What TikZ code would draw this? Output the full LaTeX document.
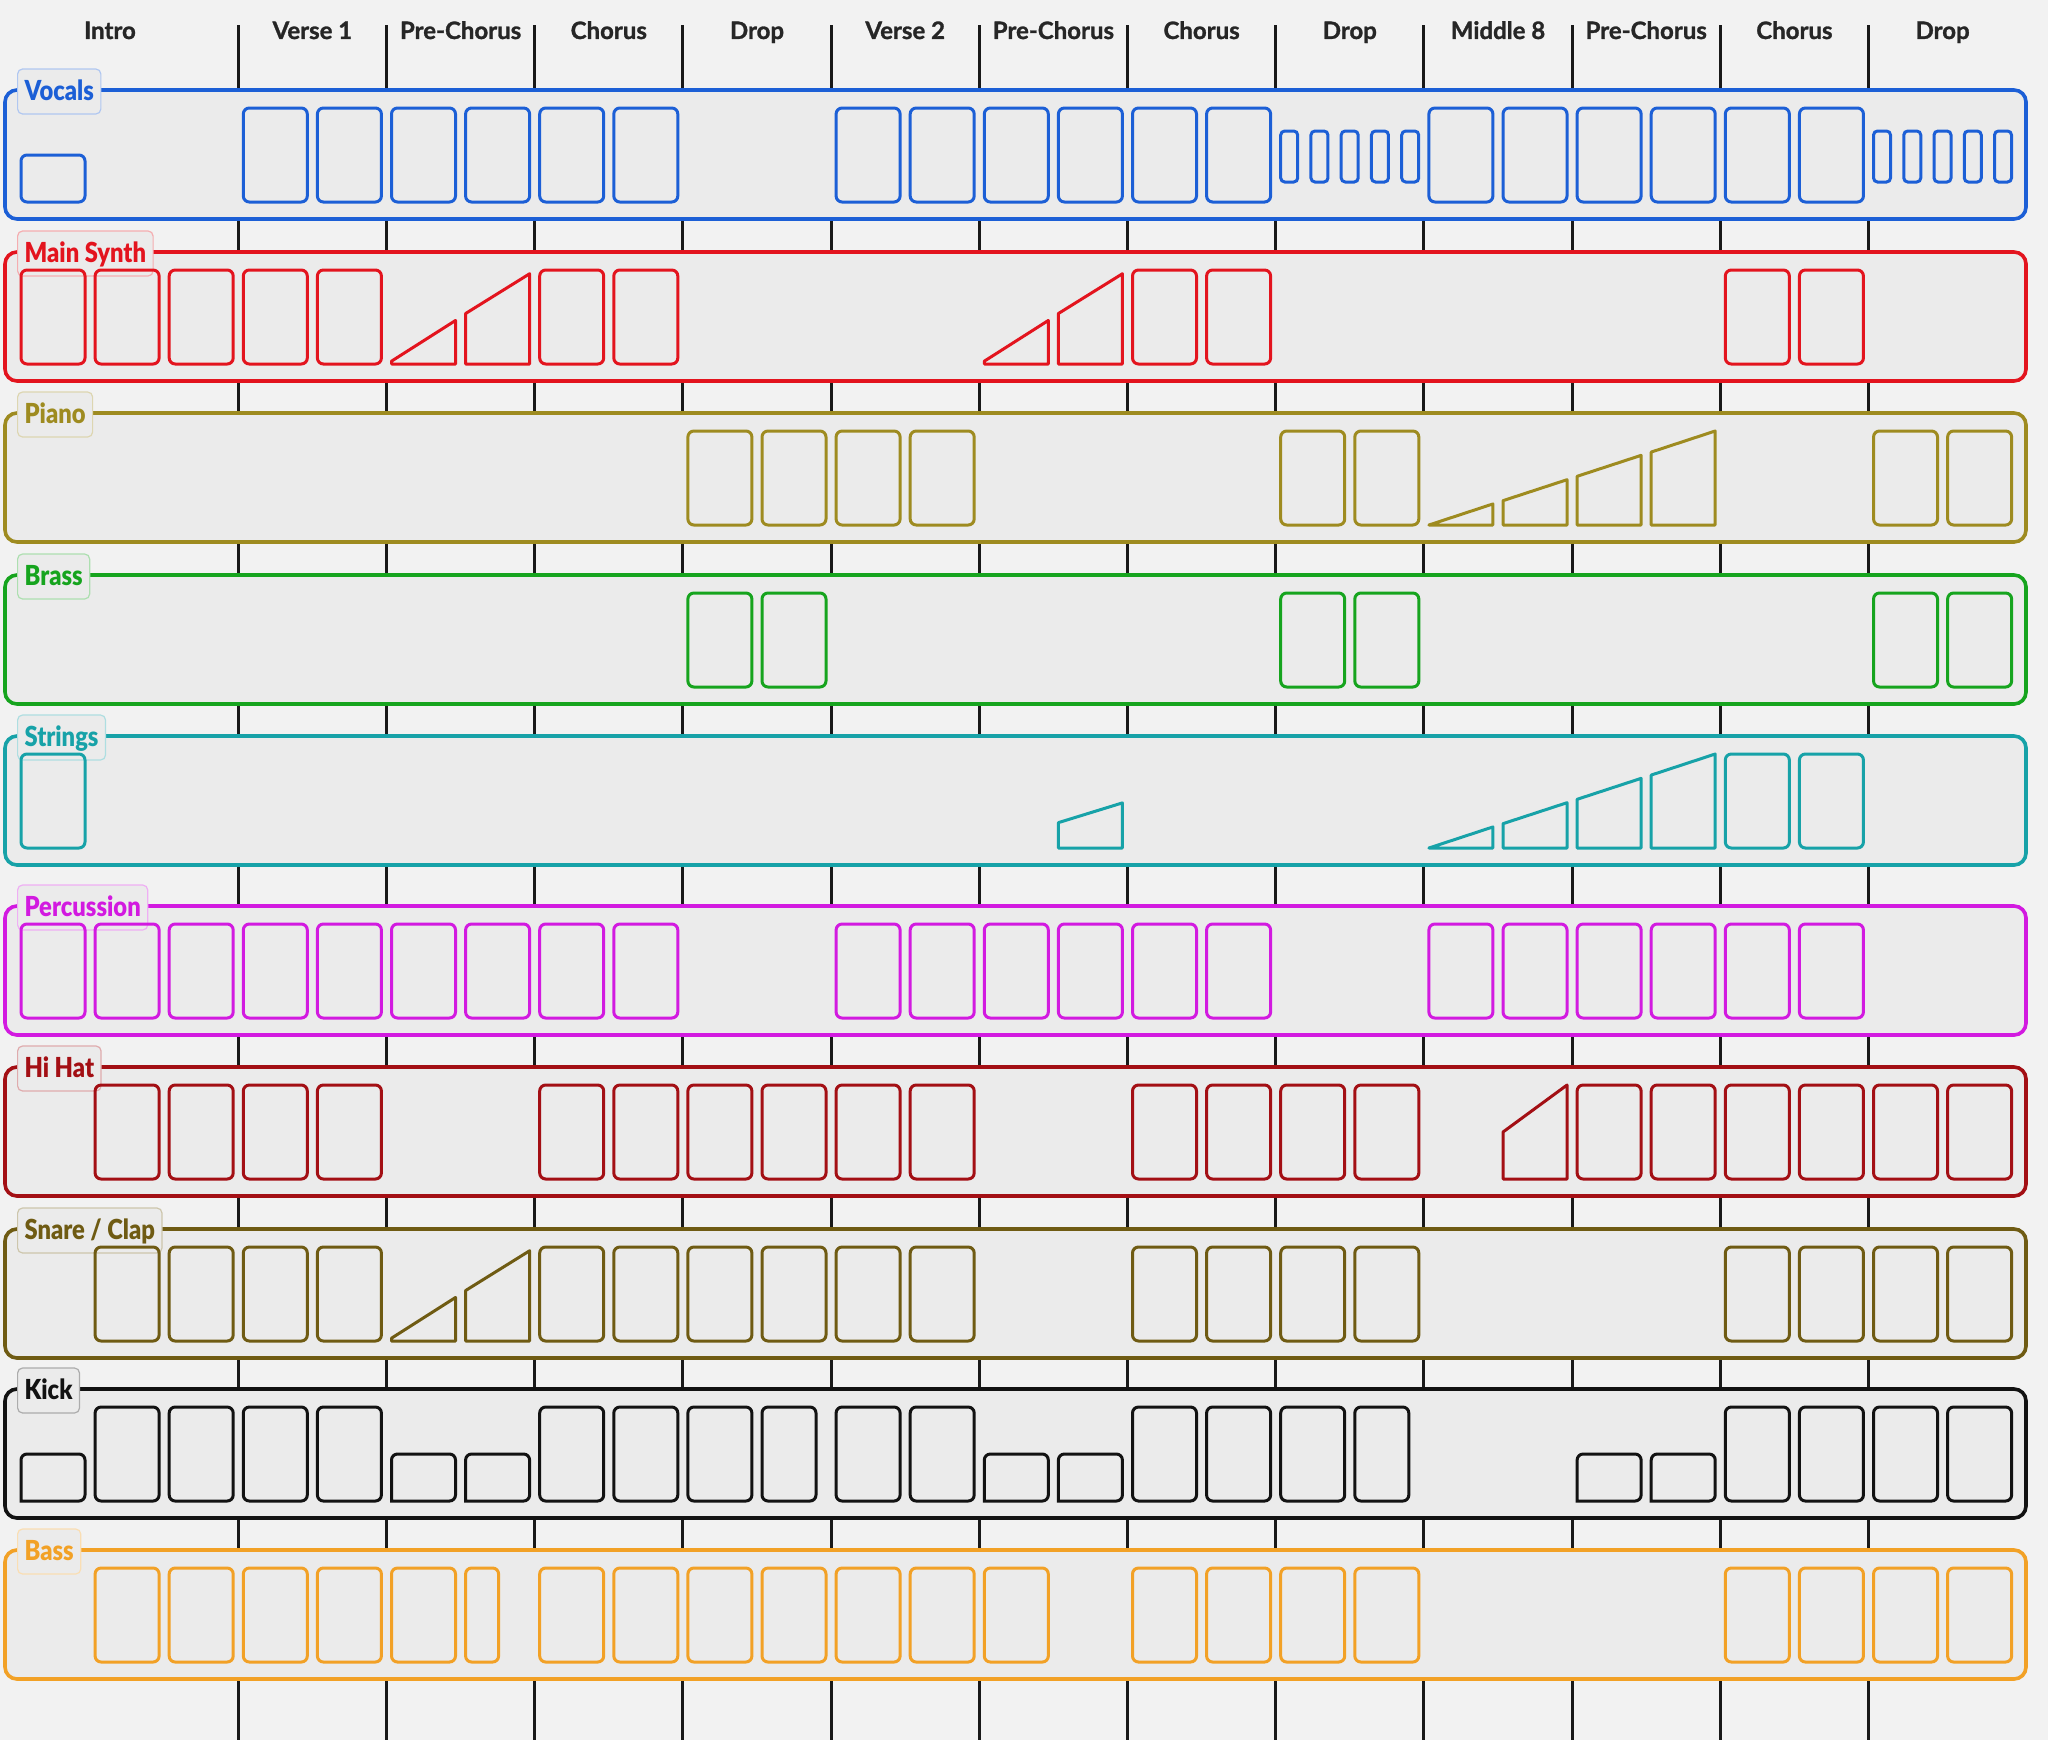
\documentclass[tikz,border=0pt]{standalone}
\usepackage{fontspec}
\setmainfont{Lato}
\IfFontExistsTF{Lato Black}
  {\newfontfamily\trackfont[FakeStretch=0.86]{Lato Black}}
  {\IfFontExistsTF{Lato Bold}
    {\newfontfamily\trackfont[FakeStretch=0.88,FakeBold=1.5]{Lato Bold}}
    {\newfontfamily\trackfont[FakeStretch=0.88,FakeBold=3]{Lato}}}
\IfFontExistsTF{Lato Bold}
  {\newfontfamily\secfont[FakeBold=1.2]{Lato Bold}}
  {\newfontfamily\secfont[FakeBold=2.5]{Lato}}
\usepackage{tikz}

\definecolor{bgcol}{HTML}{F2F2F2}
\definecolor{lanefill}{HTML}{EBEBEB}
\definecolor{vocalcol}{HTML}{1C5FD6}
\definecolor{synthcol}{HTML}{E3141E}
\definecolor{pianocol}{HTML}{9E8B20}
\definecolor{brasscol}{HTML}{16A41E}
\definecolor{stringcol}{HTML}{17A2A8}
\definecolor{perccol}{HTML}{D21AE0}
\definecolor{hihatcol}{HTML}{A30F14}
\definecolor{snarecol}{HTML}{6F5B13}
\definecolor{kickcol}{HTML}{121212}
\definecolor{basscol}{HTML}{F2A126}

% one bar = 64 wide, 74.1 apart, first bar at x=21
\newcommand{\fullblocks}[3]{\foreach \c in {#1} {\draw[blk, #3] ({21+74.1*\c},#2+18) rectangle ++(64,94);}}
\newcommand{\rampcol}[5]{\draw[rampline, #5] ({21+74.1*(#1)},#2+112) -- ({21+74.1*(#1)},{#2+112-94*#3}) -- ({85+74.1*(#1)},{#2+112-94*#4}) -- ({85+74.1*(#1)},#2+112) -- cycle;}
\newcommand{\halfblk}[3]{\draw[blk, #3, sharp corners] ({21+74.1*(#1)},#2+112) [rounded corners=3pt] -- ({21+74.1*(#1)},#2+65) -- ({85+74.1*(#1)},#2+65) -- ({85+74.1*(#1)},#2+112) [sharp corners] -- cycle;}

\begin{document}
\begin{tikzpicture}[x=0.5pt, y=-0.5pt,
  lane/.style={line width=1.8pt, rounded corners=6pt, fill=lanefill},
  blk/.style={line width=1.5pt, rounded corners=3pt},
  rampline/.style={line width=1.5pt, line join=round},
  lanetag/.style={anchor=west, rounded corners=2.5pt, fill=lanefill, line width=0.6pt,
    font=\trackfont\fontsize{13.8}{16}\selectfont, text height=11pt, text depth=2pt,
    inner xsep=3.5pt, inner ysep=0pt, minimum height=22.5pt},
  seclabel/.style={anchor=base, font=\secfont\fontsize{12}{14}\selectfont, text=black!85},
  divider/.style={line width=1.5pt, black!90}]

\useasboundingbox (0,0) rectangle (2048,1740);
\fill[bgcol] (0,0) rectangle (2048,1740);

% section lines and names
\foreach \k in {0,...,11}
  \draw[divider] ({238.3+148.2*\k},25) -- ({238.3+148.2*\k},1740);
\node[seclabel] (sec0) at (110,39) {Intro};
\foreach \k/\name in {1/Verse 1, 2/Pre-Chorus, 3/Chorus, 4/Drop, 5/Verse 2, 6/Pre-Chorus,
    7/Chorus, 8/Drop, 9/Middle 8, 10/Pre-Chorus, 11/Chorus, 12/Drop}
  \node[seclabel] (sec\k) at ({238.3+148.2*(\k-0.5)},39) {\name};

% Vocals
\draw[lane, draw=vocalcol] (5,90) rectangle (2026,219);
\node[lanetag, draw=vocalcol!35!white, text=vocalcol] (vocalsTag) at (17,91.5) {Vocals};
\draw[blk, vocalcol] (21,155) rectangle ++(64,47);
\fullblocks{3,4,5,6,7,8,11,12,13,14,15,16,19,20,21,22,23,24}{90}{vocalcol}
\foreach \c in {17,25} \foreach \j in {0,...,4}
  \draw[blk, vocalcol, rounded corners=2pt] ({21+74.1*\c+30.25*\j},131) rectangle ++(17,51);

% Main Synth
\draw[lane, draw=synthcol] (5,252) rectangle (2026,381);
\node[lanetag, draw=synthcol!35!white, text=synthcol] (synthTag) at (17,253.5) {Main Synth};
\fullblocks{0,1,2,3,4,7,8,15,16,23,24}{252}{synthcol}
\foreach \c in {5,13} {
  \rampcol{\c}{252}{0.03}{0.463}{synthcol}
  \rampcol{\c+1}{252}{0.537}{0.96}{synthcol}
}

% Piano
\draw[lane, draw=pianocol] (5,413) rectangle (2026,542);
\node[lanetag, draw=pianocol!35!white, text=pianocol] (pianoTag) at (17,414.5) {Piano};
\fullblocks{9,10,11,12,17,18,25,26}{413}{pianocol}
\rampcol{19}{413}{0}{0.224}{pianocol}
\rampcol{20}{413}{0.259}{0.482}{pianocol}
\rampcol{21}{413}{0.518}{0.741}{pianocol}
\rampcol{22}{413}{0.776}{1}{pianocol}

% Brass
\draw[lane, draw=brasscol] (5,575) rectangle (2026,704);
\node[lanetag, draw=brasscol!35!white, text=brasscol] (brassTag) at (17,576.5) {Brass};
\fullblocks{9,10,17,18,25,26}{575}{brasscol}

% Strings
\draw[lane, draw=stringcol] (5,736) rectangle (2026,865);
\node[lanetag, draw=stringcol!35!white, text=stringcol] (stringsTag) at (17,737.5) {Strings};
\fullblocks{0,23,24}{736}{stringcol}
\rampcol{14}{736}{0.27}{0.48}{stringcol}
\rampcol{19}{736}{0}{0.224}{stringcol}
\rampcol{20}{736}{0.259}{0.482}{stringcol}
\rampcol{21}{736}{0.518}{0.741}{stringcol}
\rampcol{22}{736}{0.776}{1}{stringcol}

% Percussion
\draw[lane, draw=perccol] (5,906) rectangle (2026,1035);
\node[lanetag, draw=perccol!35!white, text=perccol] (percTag) at (17,907.5) {Percussion};
\fullblocks{0,1,2,3,4,5,6,7,8,11,12,13,14,15,16,19,20,21,22,23,24}{906}{perccol}

% Hi Hat
\draw[lane, draw=hihatcol] (5,1067) rectangle (2026,1196);
\node[lanetag, draw=hihatcol!35!white, text=hihatcol] (hihatTag) at (17,1068.5) {Hi Hat};
\fullblocks{1,2,3,4,7,8,9,10,11,12,15,16,17,18,21,22,23,24,25,26}{1067}{hihatcol}
\rampcol{20}{1067}{0.5}{1}{hihatcol}

% Snare / Clap
\draw[lane, draw=snarecol] (5,1229) rectangle (2026,1358);
\node[lanetag, draw=snarecol!35!white, text=snarecol] (snareTag) at (17,1230.5) {Snare / Clap};
\fullblocks{1,2,3,4,7,8,9,10,11,12,15,16,17,18,23,24,25,26}{1229}{snarecol}
\rampcol{5}{1229}{0.03}{0.463}{snarecol}
\rampcol{6}{1229}{0.537}{0.96}{snarecol}

% Kick
\draw[lane, draw=kickcol] (5,1389) rectangle (2026,1518);
\node[lanetag, draw=kickcol!35!white, text=kickcol] (kickTag) at (17,1390.5) {Kick};
\fullblocks{1,2,3,4,7,8,9,11,12,15,16,17,23,24,25,26}{1389}{kickcol}
\foreach \c in {10,18} {\draw[blk, kickcol] ({21+74.1*\c},1407) rectangle ++(54,94);}
\foreach \c in {0,5,6,13,14,21,22} {\halfblk{\c}{1389}{kickcol}}

% Bass
\draw[lane, draw=basscol] (5,1550) rectangle (2026,1679);
\node[lanetag, draw=basscol!35!white, text=basscol] (bassTag) at (17,1551.5) {Bass};
\fullblocks{1,2,3,4,5,7,8,9,10,11,12,13,15,16,17,18,23,24,25,26}{1550}{basscol}
\draw[blk, basscol] ({21+74.1*6},1568) rectangle ++(33,94);

\end{tikzpicture}
\end{document}
